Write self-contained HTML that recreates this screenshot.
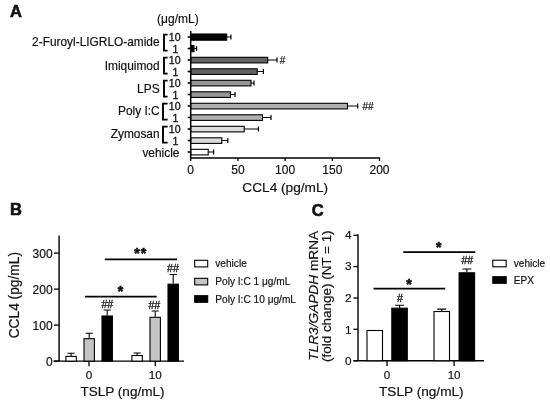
<!DOCTYPE html><html><head><meta charset="utf-8"><title>Figure</title>
<style>html,body{margin:0;padding:0;background:#fff}svg{display:block}text{font-family:"Liberation Sans", Arial, sans-serif;fill:#111;stroke:#111;stroke-width:.18px}</style></head><body>
<svg width="550" height="404" viewBox="0 0 550 404">
<rect width="550" height="404" fill="#fff"/>
<text x="10" y="17.3" font-size="16.5" font-weight="bold" style="stroke-width:.6px">A</text>
<text x="177.9" y="23.1" font-size="12" text-anchor="middle">(μg/mL)</text>
<path d="M226.7 37.0H230.9M230.9 34.4V39.6" stroke="#000" stroke-width="1.2" fill="none"/>
<rect x="190.7" y="34.0" width="36.0" height="6.2" fill="#000" stroke="#000" stroke-width="1.1"/>
<path d="M187.7 37.0H190.7" stroke="#000" stroke-width="1.6"/>
<path d="M194.0 48.5H196.6M196.6 45.9V51.1" stroke="#000" stroke-width="1.2" fill="none"/>
<rect x="190.7" y="45.5" width="3.3" height="6.2" fill="#000" stroke="#000" stroke-width="1.1"/>
<path d="M187.7 48.5H190.7" stroke="#000" stroke-width="1.6"/>
<path d="M267.7 60.0H277.0M277.0 57.4V62.6" stroke="#000" stroke-width="1.2" fill="none"/>
<rect x="190.7" y="57.3" width="77.0" height="5.6" fill="#636363" stroke="#000" stroke-width="1.1"/>
<path d="M187.7 60.0H190.7" stroke="#000" stroke-width="1.6"/>
<path d="M257.2 71.5H263.4M263.4 68.9V74.1" stroke="#000" stroke-width="1.2" fill="none"/>
<rect x="190.7" y="68.8" width="66.5" height="5.6" fill="#636363" stroke="#000" stroke-width="1.1"/>
<path d="M187.7 71.5H190.7" stroke="#000" stroke-width="1.6"/>
<path d="M251.0 83.0H254.0M254.0 80.4V85.6" stroke="#000" stroke-width="1.2" fill="none"/>
<rect x="190.7" y="80.3" width="60.3" height="5.6" fill="#969696" stroke="#000" stroke-width="1.1"/>
<path d="M187.7 83.0H190.7" stroke="#000" stroke-width="1.6"/>
<path d="M230.5 94.5H235.0M235.0 91.9V97.1" stroke="#000" stroke-width="1.2" fill="none"/>
<rect x="190.7" y="91.8" width="39.8" height="5.6" fill="#969696" stroke="#000" stroke-width="1.1"/>
<path d="M187.7 94.5H190.7" stroke="#000" stroke-width="1.6"/>
<path d="M347.5 106.0H357.7M357.7 103.4V108.6" stroke="#000" stroke-width="1.2" fill="none"/>
<rect x="190.7" y="103.3" width="156.8" height="5.6" fill="#b0b0b0" stroke="#000" stroke-width="1.1"/>
<path d="M187.7 106.0H190.7" stroke="#000" stroke-width="1.6"/>
<path d="M262.5 117.5H271.0M271.0 114.9V120.1" stroke="#000" stroke-width="1.2" fill="none"/>
<rect x="190.7" y="114.8" width="71.8" height="5.6" fill="#b0b0b0" stroke="#000" stroke-width="1.1"/>
<path d="M187.7 117.5H190.7" stroke="#000" stroke-width="1.6"/>
<path d="M244.2 129.0H258.4M258.4 126.4V131.6" stroke="#000" stroke-width="1.2" fill="none"/>
<rect x="190.7" y="126.3" width="53.5" height="5.6" fill="#dcdcdc" stroke="#000" stroke-width="1.1"/>
<path d="M187.7 129.0H190.7" stroke="#000" stroke-width="1.6"/>
<path d="M221.8 140.5H227.8M227.8 137.9V143.1" stroke="#000" stroke-width="1.2" fill="none"/>
<rect x="190.7" y="137.8" width="31.1" height="5.6" fill="#dcdcdc" stroke="#000" stroke-width="1.1"/>
<path d="M187.7 140.5H190.7" stroke="#000" stroke-width="1.6"/>
<path d="M208.2 152.0H213.6M213.6 149.4V154.6" stroke="#000" stroke-width="1.2" fill="none"/>
<rect x="190.7" y="149.3" width="17.5" height="5.6" fill="#fff" stroke="#000" stroke-width="1.1"/>
<path d="M187.7 152.0H190.7" stroke="#000" stroke-width="1.6"/>
<path d="M190.7 31V158.1H380.2" stroke="#000" stroke-width="1.5" fill="none"/>
<path d="M190.7 158V161" stroke="#000" stroke-width="1.3"/>
<text x="190.7" y="174.2" font-size="12" text-anchor="middle">0</text>
<path d="M237.9 158V161" stroke="#000" stroke-width="1.3"/>
<text x="237.9" y="174.2" font-size="12" text-anchor="middle">50</text>
<path d="M285.1 158V161" stroke="#000" stroke-width="1.3"/>
<text x="285.1" y="174.2" font-size="12" text-anchor="middle">100</text>
<path d="M332.3 158V161" stroke="#000" stroke-width="1.3"/>
<text x="332.3" y="174.2" font-size="12" text-anchor="middle">150</text>
<path d="M379.5 158V161" stroke="#000" stroke-width="1.3"/>
<text x="379.5" y="174.2" font-size="12" text-anchor="middle">200</text>
<text x="285.2" y="192.3" font-size="13.65" text-anchor="middle">CCL4 (pg/mL)</text>
<text x="159.6" y="46.0" font-size="11.9" text-anchor="end">2-Furoyl-LIGRLO-amide</text>
<path d="M167.6 34.6H164.0V50.6H167.6" stroke="#000" stroke-width="1.9" fill="none"/>
<text x="174.7" y="41.1" font-size="10.6" text-anchor="middle" style="stroke-width:.3px">10</text>
<text x="175.4" y="52.6" font-size="10.6" text-anchor="middle" style="stroke-width:.3px">1</text>
<text x="159.6" y="69.8" font-size="11.9" text-anchor="end">Imiquimod</text>
<path d="M167.6 57.6H164.0V73.6H167.6" stroke="#000" stroke-width="1.9" fill="none"/>
<text x="174.7" y="64.1" font-size="10.6" text-anchor="middle" style="stroke-width:.3px">10</text>
<text x="175.4" y="75.6" font-size="10.6" text-anchor="middle" style="stroke-width:.3px">1</text>
<text x="159.6" y="92.8" font-size="11.9" text-anchor="end">LPS</text>
<path d="M167.6 80.6H164.0V96.6H167.6" stroke="#000" stroke-width="1.9" fill="none"/>
<text x="174.7" y="87.1" font-size="10.6" text-anchor="middle" style="stroke-width:.3px">10</text>
<text x="175.4" y="98.6" font-size="10.6" text-anchor="middle" style="stroke-width:.3px">1</text>
<text x="159.6" y="115.2" font-size="11.9" text-anchor="end">Poly I:C</text>
<path d="M167.6 103.6H163.0V119.6H167.6" stroke="#000" stroke-width="1.9" fill="none"/>
<text x="174.7" y="110.1" font-size="10.6" text-anchor="middle" style="stroke-width:.3px">10</text>
<text x="175.4" y="121.6" font-size="10.6" text-anchor="middle" style="stroke-width:.3px">1</text>
<text x="159.6" y="137.8" font-size="11.9" text-anchor="end">Zymosan</text>
<path d="M167.6 126.6H163.0V142.6H167.6" stroke="#000" stroke-width="1.9" fill="none"/>
<text x="174.7" y="133.1" font-size="10.6" text-anchor="middle" style="stroke-width:.3px">10</text>
<text x="175.4" y="144.6" font-size="10.6" text-anchor="middle" style="stroke-width:.3px">1</text>
<text x="179.4" y="156.6" font-size="11.9" text-anchor="end">vehicle</text>
<text x="282.5" y="64" font-size="10" text-anchor="middle">#</text>
<text x="368" y="110" font-size="10" text-anchor="middle">##</text>
<text x="9.9" y="214.6" font-size="16.5" font-weight="bold" style="stroke-width:.6px">B</text>
<path d="M59.1 235.5V361.1M53.5 361.1H184" stroke="#000" stroke-width="1.4" fill="none"/>
<path d="M54 361.1H59.1" stroke="#000" stroke-width="1.3"/>
<text x="52.6" y="366.4" font-size="12" text-anchor="end">0</text>
<path d="M54 325.1H59.1" stroke="#000" stroke-width="1.3"/>
<text x="52.6" y="330.4" font-size="12" text-anchor="end">100</text>
<path d="M54 289.1H59.1" stroke="#000" stroke-width="1.3"/>
<text x="52.6" y="294.4" font-size="12" text-anchor="end">200</text>
<path d="M54 253.1H59.1" stroke="#000" stroke-width="1.3"/>
<text x="52.6" y="258.4" font-size="12" text-anchor="end">300</text>
<text transform="translate(19.4 295.2) rotate(-90)" font-size="13.75" text-anchor="middle">CCL4 (pg/mL)</text>
<path d="M71.1 355.9V353.2M67.5 353.2H74.7" stroke="#000" stroke-width="1.1" fill="none"/>
<rect x="65.9" y="356.4" width="10.4" height="4.7" fill="#fff" stroke="#000" stroke-width="1.1"/>
<path d="M89.2 338.2V333.3M85.6 333.3H92.8" stroke="#000" stroke-width="1.1" fill="none"/>
<rect x="84.0" y="338.7" width="10.4" height="22.4" fill="#c4c4c4" stroke="#000" stroke-width="1.1"/>
<path d="M107.2 315.5V310.0M103.6 310.0H110.8" stroke="#000" stroke-width="1.1" fill="none"/>
<rect x="102.0" y="316.0" width="10.4" height="45.1" fill="#000" stroke="#000" stroke-width="1.1"/>
<path d="M137.1 355.0V353.0M133.5 353.0H140.7" stroke="#000" stroke-width="1.1" fill="none"/>
<rect x="131.9" y="355.5" width="10.4" height="5.6" fill="#fff" stroke="#000" stroke-width="1.1"/>
<path d="M155.2 316.8V311.0M151.6 311.0H158.8" stroke="#000" stroke-width="1.1" fill="none"/>
<rect x="150.0" y="317.3" width="10.4" height="43.8" fill="#c4c4c4" stroke="#000" stroke-width="1.1"/>
<path d="M173.2 283.7V274.5M169.6 274.5H176.8" stroke="#000" stroke-width="1.1" fill="none"/>
<rect x="168.0" y="284.2" width="10.4" height="76.9" fill="#000" stroke="#000" stroke-width="1.1"/>
<path d="M89.0 361.1V366.3" stroke="#000" stroke-width="1.3"/>
<text x="89.0" y="379.3" font-size="11.7" text-anchor="middle">0</text>
<path d="M155.3 361.1V366.3" stroke="#000" stroke-width="1.3"/>
<text x="155.3" y="379.3" font-size="11.7" text-anchor="middle">10</text>
<text x="122.5" y="395.9" font-size="13.55" text-anchor="middle">TSLP (ng/mL)</text>
<path d="M104.8 259.4H177M85 296.6H156.7" stroke="#000" stroke-width="1.7"/>
<text x="140.8" y="258.1" font-size="14" font-weight="bold" text-anchor="middle" letter-spacing="1.2" style="stroke-width:.6px">**</text>
<text x="120.6" y="296.2" font-size="14" font-weight="bold" text-anchor="middle" style="stroke-width:.6px">*</text>
<text x="107.3" y="308.2" font-size="10.6" text-anchor="middle" style="stroke-width:.3px">##</text>
<text x="154.3" y="308.9" font-size="10.6" text-anchor="middle" style="stroke-width:.3px">##</text>
<text x="173.0" y="271.6" font-size="10.6" text-anchor="middle" style="stroke-width:.3px">##</text>
<rect x="194.7" y="260.3" width="13" height="6.6" fill="#fff" stroke="#000" stroke-width="1.1"/>
<text x="215.3" y="267.1" font-size="10.15">vehicle</text>
<rect x="194.7" y="278.3" width="13" height="6.6" fill="#c4c4c4" stroke="#000" stroke-width="1.1"/>
<text x="215.3" y="285.1" font-size="10.15">Poly I:C 1 μg/mL</text>
<rect x="194.7" y="295.7" width="13" height="6.6" fill="#000" stroke="#000" stroke-width="1.1"/>
<text x="215.3" y="302.5" font-size="10.15">Poly I:C 10 μg/mL</text>
<text x="311.7" y="215.6" font-size="16.5" font-weight="bold" style="stroke-width:.6px">C</text>
<path d="M358.0 234.3V360.7M353.4 360.7H484" stroke="#000" stroke-width="1.4" fill="none"/>
<path d="M353.4 360.7H358.0" stroke="#000" stroke-width="1.3"/>
<text x="351.5" y="365.2" font-size="11.8" text-anchor="end">0</text>
<path d="M353.4 329.3H358.0" stroke="#000" stroke-width="1.3"/>
<text x="351.5" y="333.6" font-size="11.8" text-anchor="end">1</text>
<path d="M353.4 298.0H358.0" stroke="#000" stroke-width="1.3"/>
<text x="351.5" y="302.1" font-size="11.8" text-anchor="end">2</text>
<path d="M353.4 266.6H358.0" stroke="#000" stroke-width="1.3"/>
<text x="351.5" y="270.4" font-size="11.8" text-anchor="end">3</text>
<path d="M353.4 235.3H358.0" stroke="#000" stroke-width="1.3"/>
<text x="351.5" y="238.8" font-size="11.8" text-anchor="end">4</text>
<text transform="translate(317.7 295.8) rotate(-90)" font-size="13.7" text-anchor="middle"><tspan font-style="italic">TLR3/GAPDH</tspan> mRNA</text>
<text transform="translate(331.1 296.2) rotate(-90)" font-size="13.45" text-anchor="middle">(fold change) (NT = 1)</text>
<rect x="367.0" y="330.5" width="15.5" height="30.2" fill="#fff" stroke="#000" stroke-width="1.1"/>
<path d="M399.6 307.7V305.2M395.1 305.2H404.1" stroke="#000" stroke-width="1.1" fill="none"/>
<rect x="391.8" y="308.2" width="15.5" height="52.5" fill="#000" stroke="#000" stroke-width="1.1"/>
<path d="M441.8 311.0V309.1M437.2 309.1H446.2" stroke="#000" stroke-width="1.1" fill="none"/>
<rect x="434.0" y="311.5" width="15.5" height="49.2" fill="#fff" stroke="#000" stroke-width="1.1"/>
<path d="M466.9 272.3V269.0M462.4 269.0H471.4" stroke="#000" stroke-width="1.1" fill="none"/>
<rect x="459.1" y="272.8" width="15.5" height="87.9" fill="#000" stroke="#000" stroke-width="1.1"/>
<path d="M387.0 360.7V366.0" stroke="#000" stroke-width="1.3"/>
<text x="387.0" y="379.2" font-size="11.6" text-anchor="middle">0</text>
<path d="M454.1 360.7V366.0" stroke="#000" stroke-width="1.3"/>
<text x="454.1" y="379.2" font-size="11.6" text-anchor="middle">10</text>
<text x="421.3" y="396.0" font-size="13.65" text-anchor="middle">TSLP (ng/mL)</text>
<path d="M403.3 252.2H475.3M373.5 288.6H445.2" stroke="#000" stroke-width="1.7"/>
<text x="438.7" y="252.4" font-size="14" font-weight="bold" text-anchor="middle" style="stroke-width:.6px">*</text>
<text x="409" y="289.3" font-size="14" font-weight="bold" text-anchor="middle" style="stroke-width:.6px">*</text>
<text x="400" y="301.7" font-size="10.6" text-anchor="middle" style="stroke-width:.3px">#</text>
<text x="467.3" y="264.1" font-size="10.6" text-anchor="middle" style="stroke-width:.3px">##</text>
<rect x="492.8" y="260.2" width="13.4" height="6.6" fill="#fff" stroke="#000" stroke-width="1.1"/>
<text x="513.8" y="267.3" font-size="10.1">vehicle</text>
<rect x="492.8" y="276.7" width="13.4" height="6.6" fill="#000" stroke="#000" stroke-width="1.1"/>
<text x="513.8" y="283.8" font-size="10.1">EPX</text>
</svg></body></html>
